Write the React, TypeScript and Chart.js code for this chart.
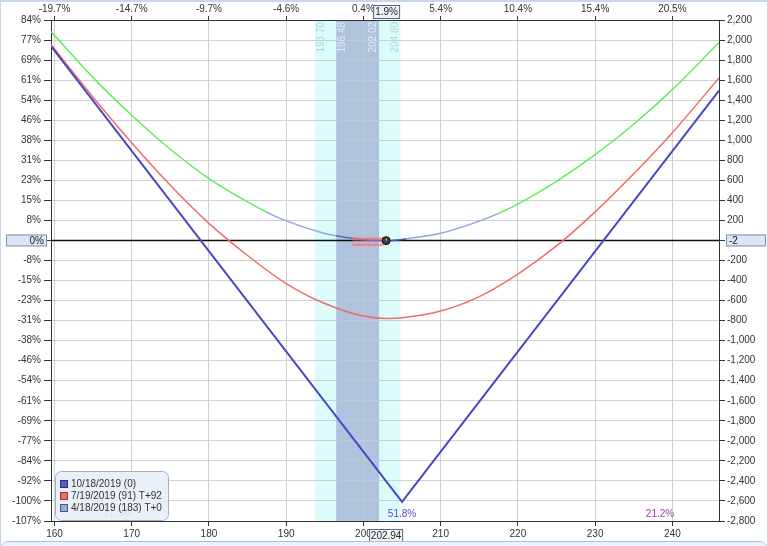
import React, { useEffect, useRef } from "react";
import { Chart, registerables } from "chart.js";

Chart.register(...registerables);

// ---------- data ----------
const xMin = 159.55;
const xMax = 246.04;
const xTicks = [160, 170, 180, 190, 200, 210, 220, 230, 240];
const topTickLabels = ["-19.7%", "-14.7%", "-9.7%", "-4.6%", "0.4%", "5.4%", "10.4%", "15.4%", "20.5%"];
const yTicks = [2200, 2000, 1800, 1600, 1400, 1200, 1000, 800, 600, 400, 200, 0, -200, -400, -600, -800, -1000, -1200, -1400, -1600, -1800, -2000, -2200, -2400, -2600, -2800];
const leftTickLabels = ["84%", "77%", "69%", "61%", "54%", "46%", "38%", "31%", "23%", "15%", "8%", "0%", "-8%", "-15%", "-23%", "-31%", "-38%", "-46%", "-54%", "-61%", "-69%", "-77%", "-84%", "-92%", "-100%", "-107%"];

// 10/18/2019 expiry
const expiryX = [159.55, 205, 246.04];
const expiryY = [1940, -2610, 1495];

// 7/19/2019 T+92
const t92X = [159.55, 165, 170, 175, 180, 185, 190, 195, 200, 203, 205, 210, 215, 220, 225, 230, 235, 240, 246.04];
const t92Y = [1955, 1430, 975, 550, 170, -150, -430, -630, -755, -780, -772, -705, -560, -335, -55, 285, 665, 1075, 1622];

// 4/18/2019 T+0
const t0X = [159.55, 165, 170, 175, 180, 185, 187.4, 190, 195, 196.4, 200, 202.94, 205, 205.6, 210, 215, 217.5, 220, 225, 230, 235, 240, 246.04];
const t0Y = [2085, 1625, 1250, 910, 618, 385, 285, 195, 70, 48, 8, -2, 10, 17, 72, 193, 270, 363, 590, 856, 1160, 1505, 1975];

const legendLabels = ["10/18/2019 (0)", "7/19/2019 (91) T+92", "4/18/2019 (183) T+0"];

const outerBand = [193.7, 204.8];
const innerBand = [196.48, 202.02];
const lightSegment = [187.4, 217.5];
const darkSegment = [196.4, 205.6];

const spotX = 202.94;
const spotPL = -2;
const spotPctLabel = "1.9%";
const spotPLLabel = "-2";
const spotXLabel = "202.94";
const hatchX = [198.6, 202.6];
const hatchY = [38, -62];

const probLabels = ["21.0%", "51.8%", "21.2%"];
const probX = [168.1, 205, 238.4];

// ---------- styles ----------
const FONT = '10px "Liberation Sans", Arial, sans-serif';
const BLUE = "#4848c0";
const RED = "#f26b6b";
const GREEN = "#62ee5a";
const LIGHTBLUE = "#8ea6de";
const DARKBLUE = "#4a56c4";

function boxText(ctx: CanvasRenderingContext2D, x: number, y: number, w: number, h: number, text: string, align: CanvasTextAlign, fill: string, stroke: string) {
  ctx.fillStyle = fill;
  ctx.fillRect(x, y, w, h);
  ctx.strokeStyle = stroke;
  ctx.lineWidth = 1;
  ctx.strokeRect(x + 0.5, y + 0.5, w - 1, h - 1);
  ctx.fillStyle = "#222";
  ctx.font = FONT;
  ctx.textBaseline = "middle";
  ctx.textAlign = align;
  const tx = align === "right" ? x + w - 3 : align === "left" ? x + 3 : x + w / 2;
  ctx.fillText(text, tx, y + h / 2 + 0.5);
}

const overlay = {
  id: "overlay",
  beforeDraw(chart: any) {
    const { ctx, chartArea: a, scales } = chart;
    const xs = scales.x;
    ctx.save();
    ctx.fillStyle = "#ffffff";
    ctx.fillRect(0, 0, chart.width, chart.height);
    const o0 = xs.getPixelForValue(outerBand[0]);
    const o1 = xs.getPixelForValue(outerBand[1]);
    ctx.fillStyle = "#dcfcfc";
    ctx.fillRect(o0, a.top, o1 - o0, a.bottom - a.top);
    const i0 = xs.getPixelForValue(innerBand[0]);
    const i1 = xs.getPixelForValue(innerBand[1]);
    ctx.fillStyle = "#afc2de";
    ctx.fillRect(i0, a.top, i1 - i0, a.bottom - a.top);
    ctx.restore();
  },
  beforeDatasetsDraw(chart: any) {
    const { ctx, chartArea: a, scales } = chart;
    const xs = scales.x;
    const ys = scales.y;
    ctx.save();
    // band labels
    const edges = [
      { v: outerBand[0], dx: 6.5, c: "#a6dadf" },
      { v: innerBand[0], dx: 6.5, c: "#e4eaf6" },
      { v: innerBand[1], dx: -5.5, c: "#e4eaf6" },
      { v: outerBand[1], dx: -5.5, c: "#a6dadf" },
    ];
    ctx.font = FONT;
    edges.forEach((e) => {
      ctx.save();
      ctx.translate(xs.getPixelForValue(e.v) + e.dx, a.top + 2);
      ctx.rotate(-Math.PI / 2);
      ctx.textAlign = "right";
      ctx.textBaseline = "middle";
      ctx.fillStyle = e.c;
      ctx.fillText(e.v.toFixed(2), 0, 0);
      ctx.restore();
    });
    // zero line
    const y0 = ys.getPixelForValue(0);
    ctx.strokeStyle = "#111";
    ctx.lineWidth = 1.5;
    ctx.beginPath();
    ctx.moveTo(a.left, y0);
    ctx.lineTo(a.right, y0);
    ctx.stroke();
    ctx.restore();
  },
  afterDatasetsDraw(chart: any) {
    const { ctx, chartArea: a, scales } = chart;
    const xs = scales.x;
    const ys = scales.y;
    ctx.save();
    // pink hatch marker
    const hx0 = xs.getPixelForValue(hatchX[0]);
    const hx1 = xs.getPixelForValue(hatchX[1]);
    const hy0 = ys.getPixelForValue(hatchY[0]);
    const hy1 = ys.getPixelForValue(hatchY[1]);
    ctx.fillStyle = "rgba(245,150,150,0.35)";
    ctx.fillRect(hx0, hy0, hx1 - hx0, hy1 - hy0);
    ctx.strokeStyle = "rgba(238,110,110,0.9)";
    ctx.lineWidth = 2;
    ctx.setLineDash([2, 1]);
    [hy0 + 2, hy1 - 2].forEach((yy) => {
      ctx.beginPath();
      ctx.moveTo(hx0, yy);
      ctx.lineTo(hx1, yy);
      ctx.stroke();
    });
    ctx.setLineDash([]);
    // spot marker
    const sx = xs.getPixelForValue(spotX);
    const sy = ys.getPixelForValue(spotPL);
    ctx.beginPath();
    ctx.arc(sx, sy, 4, 0, Math.PI * 2);
    ctx.fillStyle = "#3a3a3a";
    ctx.fill();
    ctx.strokeStyle = "#111";
    ctx.lineWidth = 1;
    ctx.stroke();
    ctx.fillStyle = "#bbb";
    ctx.fillRect(sx - 0.5, sy - 2, 1.5, 2);
    // probability labels
    ctx.font = FONT;
    ctx.textAlign = "center";
    ctx.textBaseline = "middle";
    const pc = ["#9a44a8", "#5a4cc0", "#9a44a8"];
    probLabels.forEach((t, i) => {
      ctx.fillStyle = pc[i];
      ctx.fillText(t, xs.getPixelForValue(probX[i]), a.bottom - 7);
    });
    ctx.restore();
  },
  afterDraw(chart: any) {
    const { ctx, chartArea: a, scales } = chart;
    const xs = scales.x;
    const ys = scales.y;
    ctx.save();
    const y0 = ys.getPixelForValue(0);
    const sx = xs.getPixelForValue(spotX);
    boxText(ctx, 6, y0 - 6, 41, 12, leftTickLabels[yTicks.indexOf(0)], "right", "#dce6f3", "#7d93b6");
    boxText(ctx, 726, y0 - 6, 40, 12, spotPLLabel, "left", "#dce6f3", "#7d93b6");
    boxText(ctx, sx - 13, 5, 27, 14, spotPctLabel, "center", "#eef2f8", "#5a6275");
    boxText(ctx, sx - 17, 529, 34, 13, spotXLabel, "center", "#f3f5f9", "#5a6275");

    // legend
    const lx = 55, ly = 471, lw = 113, lh = 49;
    ctx.beginPath();
    ctx.roundRect(lx + 0.5, ly + 0.5, lw, lh, 6);
    ctx.fillStyle = "rgba(232,238,247,0.9)";
    ctx.fill();
    ctx.strokeStyle = "#a4aec4";
    ctx.lineWidth = 1;
    ctx.stroke();
    const sw = [
      { f: "#5a5ad0", s: "#30307a" },
      { f: "#f26b6b", s: "#a03a3a" },
      { f: "#97acd8", s: "#4a5a80" },
    ];
    ctx.font = FONT;
    ctx.textAlign = "left";
    ctx.textBaseline = "middle";
    legendLabels.forEach((t, i) => {
      const yy = 484 + i * 12;
      ctx.fillStyle = sw[i].f;
      ctx.fillRect(60, yy - 4, 8, 8);
      ctx.strokeStyle = sw[i].s;
      ctx.strokeRect(60.5, yy - 3.5, 7, 7);
      ctx.fillStyle = "#333";
      ctx.fillText(t, 71, yy + 0.5);
    });

    // outer frame
    ctx.fillStyle = "#c9d7ea";
    ctx.fillRect(0, 0, chart.width, 2);
    ctx.fillRect(0, 0, 1, chart.height);
    ctx.fillRect(chart.width - 1, 0, 1, chart.height);
    ctx.beginPath();
    ctx.roundRect(1.5, 541.5, chart.width - 3, 20, 7);
    ctx.fillStyle = "#eef3fa";
    ctx.fill();
    ctx.strokeStyle = "#a9bedc";
    ctx.stroke();
    ctx.restore();
  },
};

function toPoints(xs: number[], ys: number[]) {
  return xs.map((x, i) => ({ x, y: ys[i] }));
}

export default function App() {
  const ref = useRef<HTMLCanvasElement | null>(null);
  useEffect(() => {
    if (!ref.current) return;
    const gridColor = "rgba(200,200,200,0.85)";
    const tickFont = { family: '"Liberation Sans", Arial, sans-serif', size: 10 };
    const chart = new Chart(ref.current, {
      type: "line",
      data: {
        datasets: [
          {
            label: legendLabels[0],
            data: toPoints(expiryX, expiryY),
            borderColor: BLUE,
            borderWidth: 2,
            pointRadius: 0,
            tension: 0,
            xAxisID: "x",
            yAxisID: "y",
          },
          {
            label: legendLabels[1],
            data: toPoints(t92X, t92Y),
            borderColor: RED,
            borderWidth: 1.5,
            pointRadius: 0,
            cubicInterpolationMode: "monotone",
            xAxisID: "x",
            yAxisID: "y",
          },
          {
            label: legendLabels[2],
            data: toPoints(t0X, t0Y),
            borderColor: GREEN,
            borderWidth: 1.5,
            pointRadius: 0,
            cubicInterpolationMode: "monotone",
            segment: {
              borderColor: (c: any) => {
                const m = (c.p0.parsed.x + c.p1.parsed.x) / 2;
                if (m > darkSegment[0] && m < darkSegment[1]) return DARKBLUE;
                if (m > lightSegment[0] && m < lightSegment[1]) return LIGHTBLUE;
                return GREEN;
              },
            },
            xAxisID: "x",
            yAxisID: "y",
          },
        ],
      },
      options: {
        responsive: false,
        animation: false,
        events: [],
        layout: { padding: 0 },
        plugins: { legend: { display: false }, tooltip: { enabled: false } },
        scales: {
          x: {
            type: "linear",
            position: "bottom",
            min: xMin,
            max: xMax,
            afterBuildTicks: (s: any) => {
              s.ticks = xTicks.map((v) => ({ value: v }));
            },
            afterFit: (s: any) => {
              s.height = 25;
            },
            ticks: {
              font: tickFont,
              color: "#333",
              padding: 2,
              maxRotation: 0,
              autoSkip: false,
              callback: (v: any) => String(v),
            },
            grid: { color: gridColor, tickColor: "#333", tickLength: 5 },
            border: { color: "#333", width: 1 },
          },
          xTop: {
            type: "linear",
            position: "top",
            min: xMin,
            max: xMax,
            afterBuildTicks: (s: any) => {
              s.ticks = xTicks.map((v) => ({ value: v }));
            },
            afterFit: (s: any) => {
              s.height = 20;
            },
            ticks: {
              font: tickFont,
              color: "#333",
              padding: 1,
              maxRotation: 0,
              autoSkip: false,
              callback: (v: any) => topTickLabels[xTicks.indexOf(v)],
            },
            grid: { drawOnChartArea: false, tickColor: "#333", tickLength: 4 },
            border: { color: "#333", width: 1 },
          },
          y: {
            type: "linear",
            position: "right",
            min: -2800,
            max: 2200,
            afterBuildTicks: (s: any) => {
              s.ticks = yTicks.map((v) => ({ value: v }));
            },
            afterFit: (s: any) => {
              s.width = 49;
            },
            ticks: {
              font: tickFont,
              color: "#333",
              padding: 2,
              autoSkip: false,
              callback: (v: any) => (v === 0 ? "" : Number(v).toLocaleString("en-US")),
            },
            grid: { color: gridColor, tickColor: "#333", tickLength: 6 },
            border: { color: "#333", width: 1 },
          },
          yLeft: {
            type: "linear",
            position: "left",
            min: -2800,
            max: 2200,
            afterBuildTicks: (s: any) => {
              s.ticks = yTicks.map((v) => ({ value: v }));
            },
            afterFit: (s: any) => {
              s.width = 51;
            },
            ticks: {
              font: tickFont,
              color: "#333",
              padding: 3,
              autoSkip: false,
              callback: (v: any) => (v === 0 ? "" : leftTickLabels[yTicks.indexOf(v)]),
            },
            grid: { drawOnChartArea: false, tickColor: "#333", tickLength: 7 },
            border: { color: "#333", width: 1 },
          },
        },
      },
      plugins: [overlay],
    } as any);
    return () => chart.destroy();
  }, []);
  return (
    <div style={{ position: "fixed", left: 0, top: 0, width: 768, height: 546, background: "#fff" }}>
      <canvas ref={ref} width={768} height={546} style={{ display: "block", width: 768, height: 546 }} />
    </div>
  );
}
